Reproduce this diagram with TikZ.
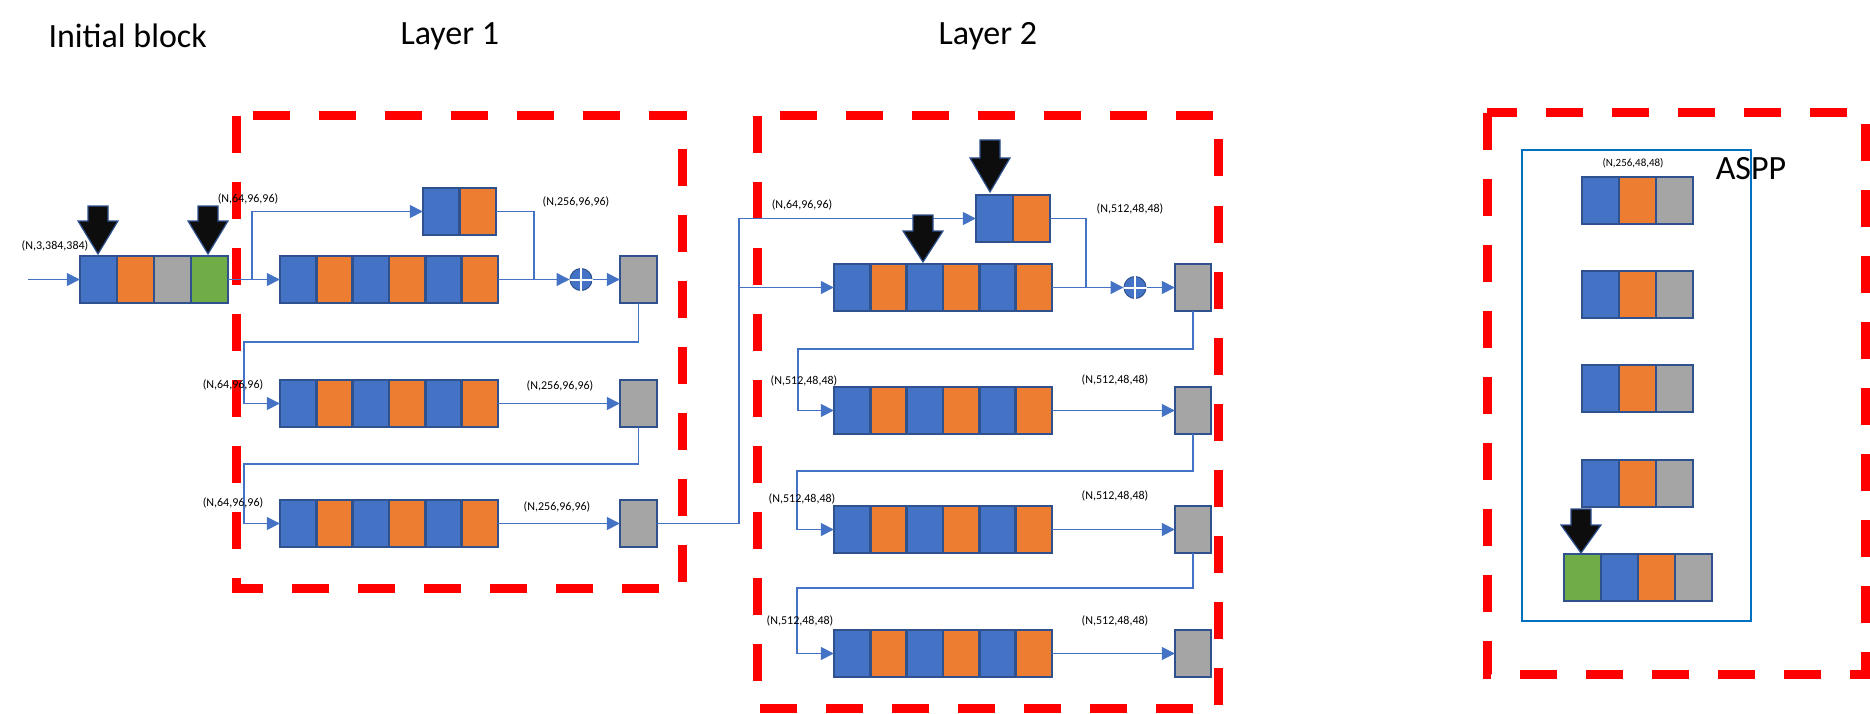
\documentclass[tikz,border=0pt]{standalone}
\usepackage{fontspec}
\setmainfont{Carlito}
\usetikzlibrary{arrows.meta,fit}
\definecolor{cB}{HTML}{4472C4}
\definecolor{cO}{HTML}{ED7D31}
\definecolor{cG}{HTML}{A5A5A5}
\definecolor{cV}{HTML}{70AD47}
\definecolor{cE}{HTML}{2F528F}
\definecolor{cA}{HTML}{0070C0}
\definecolor{cK}{HTML}{0D0D0D}
\newcommand\blockrow[6]{% name, x0, x1, ytop, n, colours
  \foreach \c [count=\i] in {#6}{
    \draw[cellst,fill=\c] ({#2+(\i-1)*(#3-#2)/#5},#4) rectangle ({#2+\i*(#3-#2)/#5},#4+47);}
  \node[fit={(#2,#4) (#3,#4+47)},inner sep=0pt] (#1) {};}
\newcommand\blackarrow[5]{% x, shaft top, head start, tip, half head width
  \draw[fill=cK,draw=cE,line width=1.2pt] (#1-10,#2) -- (#1+10,#2) -- (#1+10,#3) -- (#1+#5,#3) -- (#1,#4) -- (#1-#5,#3) -- (#1-10,#3) -- cycle;}
\begin{document}
\begin{tikzpicture}[x=1pt,y=-1pt,
  cellst/.style={draw=cE,line width=2.5pt},
  conn/.style={draw=cB,line width=1.5pt,-{Triangle[length=13pt,width=13pt]}},
  line/.style={draw=cB,line width=1.5pt},
  title/.style={font=\fontsize{34}{40}\selectfont},
  lab/.style={font=\fontsize{12}{14}\selectfont,inner sep=0pt},
  red/.style={draw=red,line width=9pt,dash pattern=on 37pt off 29pt},
  plus/.style={circle,fill=cB,draw=cE,line width=1pt,minimum size=22pt,inner sep=0pt}]
\useasboundingbox (0,0) rectangle (1870,714);
% titles
\node[title,anchor=west] (t0) at (45,36) {Initial block};
\node[title,anchor=west] (t1) at (397,36) {Layer 1};
\node[title,anchor=west] (t2) at (935,36) {Layer 2};
% dashed boxes
\draw[red] (236,116) rectangle (682,588);
\draw[red] (757.5,116) rectangle (1218,708);
\draw[red] (1487,113) rectangle (1865,674);
% initial block
\coordinate (in) at (28,279.5);
\blockrow{ib}{80}{228}{256}{4}{cB,cO,cG,cV}
\draw[conn] (in) -- (ib.west);
\node[lab] (lib) at (55,246) {(N,3,384,384)};
% layer 1
\blockrow{s1}{423}{496}{188}{2}{cB,cO}
\blockrow{r1}{280}{498}{256}{6}{cB,cO,cB,cO,cB,cO}
\blockrow{g1}{620}{657}{256}{1}{cG}
\blockrow{r2}{280}{498}{380}{6}{cB,cO,cB,cO,cB,cO}
\blockrow{g2}{620}{657}{380}{1}{cG}
\blockrow{r3}{280}{498}{500}{6}{cB,cO,cB,cO,cB,cO}
\blockrow{g3}{620}{657}{500}{1}{cG}
\node[plus] (p1) at (581,279.5) {};
\draw[white,line width=2pt] (p1.north) -- (p1.south) (p1.west) -- (p1.east);
\coordinate (j1) at (534,279.5);
\draw[conn] (ib.east) -- (r1.west);
\draw[conn] (ib.east) -- ++(24,0) |- (s1.west);
\draw[line] (s1.east) -| (j1);
\draw[conn] (r1.east) -- (p1.west);
\draw[conn] (p1.east) -- (g1.west);
\draw[conn] (g1.south) |- (244,342) |- (r2.west);
\draw[conn] (r2.east) -- (g2.west);
\draw[conn] (g2.south) |- (244,464) |- (r3.west);
\draw[conn] (r3.east) -- (g3.west);
\node[lab] (l11) at (248,199) {(N,64,96,96)};
\node[lab] (l12) at (576,202) {(N,256,96,96)};
\node[lab] (l21) at (233,385) {(N,64,96,96)};
\node[lab] (l22) at (560,386) {(N,256,96,96)};
\node[lab] (l31) at (233,503) {(N,64,96,96)};
\node[lab] (l32) at (557,507) {(N,256,96,96)};
% layer 2
\blockrow{s2}{976}{1050}{195}{2}{cB,cO}
\blockrow{q1}{834}{1052}{264}{6}{cB,cO,cB,cO,cB,cO}
\blockrow{h1}{1175}{1211}{264}{1}{cG}
\blockrow{q2}{834}{1052}{387}{6}{cB,cO,cB,cO,cB,cO}
\blockrow{h2}{1175}{1211}{387}{1}{cG}
\blockrow{q3}{834}{1052}{506}{6}{cB,cO,cB,cO,cB,cO}
\blockrow{h3}{1175}{1211}{506}{1}{cG}
\blockrow{q4}{834}{1052}{630}{6}{cB,cO,cB,cO,cB,cO}
\blockrow{h4}{1175}{1211}{630}{1}{cG}
\node[plus] (p2) at (1135,287.5) {};
\draw[white,line width=2pt] (p2.north) -- (p2.south) (p2.west) -- (p2.east);
\coordinate (b2) at (739,287.5);
\coordinate (j2) at (1086,287.5);
\draw[conn] (g3.east) -| (b2) |- (s2.west);
\draw[conn] (b2) -- (q1.west);
\draw[line] (s2.east) -| (j2);
\draw[conn] (q1.east) -- (p2.west);
\draw[conn] (p2.east) -- (h1.west);
\draw[conn] (h1.south) |- (798,349) |- (q2.west);
\draw[conn] (q2.east) -- (h2.west);
\draw[conn] (h2.south) |- (797,471) |- (q3.west);
\draw[conn] (q3.east) -- (h3.west);
\draw[conn] (h3.south) |- (797,588) |- (q4.west);
\draw[conn] (q4.east) -- (h4.west);
\node[lab] (m11) at (802,205) {(N,64,96,96)};
\node[lab] (m12) at (1130,209) {(N,512,48,48)};
\node[lab] (m21) at (804,381) {(N,512,48,48)};
\node[lab] (m22) at (1115,380) {(N,512,48,48)};
\node[lab] (m31) at (802,499) {(N,512,48,48)};
\node[lab] (m32) at (1115,496) {(N,512,48,48)};
\node[lab] (m41) at (800,621) {(N,512,48,48)};
\node[lab] (m42) at (1115,621) {(N,512,48,48)};
% ASPP
\draw[cA,line width=2pt] (1522,150) rectangle (1751,621);
\node[title,anchor=center] (tA) at (1751,169) {ASPP};
\node[lab,font=\fontsize{11}{13}\selectfont] (la) at (1633,163) {(N,256,48,48)};
\blockrow{a1}{1582}{1693}{177}{3}{cB,cO,cG}
\blockrow{a2}{1582}{1693}{271}{3}{cB,cO,cG}
\blockrow{a3}{1582}{1693}{365}{3}{cB,cO,cG}
\blockrow{a4}{1582}{1693}{460}{3}{cB,cO,cG}
\blockrow{a5}{1564}{1712}{554}{4}{cV,cB,cO,cG}
% black arrows
\blackarrow{98}{206}{221}{254}{20}
\blackarrow{208}{206}{221}{254}{20}
\blackarrow{990}{140}{158}{192}{20}
\blackarrow{923}{215}{231}{262}{20}
\blackarrow{1581}{509}{525}{553}{20}
\end{tikzpicture}
\end{document}
